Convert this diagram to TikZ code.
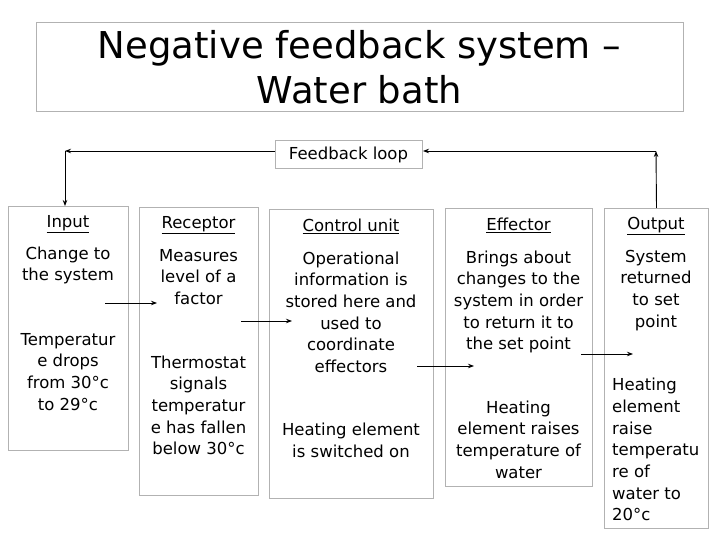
\documentclass[tikz,border=0pt]{standalone}
\usepackage{fontspec}
\setmainfont{DejaVu Sans}
\usetikzlibrary{arrows.meta}
\begin{document}
\begin{tikzpicture}[x=1pt,y=-1pt,
  frame/.style={draw=black!30, line width=1pt, inner sep=0pt, anchor=north west},
  txt/.style={inner sep=0pt, align=center, anchor=north, font=\fontsize{16.5}{21.7}\selectfont},
  arr/.style={-{Stealth[length=6pt,width=4.5pt]}, line width=0.9pt}]
\useasboundingbox (0,0) rectangle (720,540);
% frames
\node[frame, minimum width=647, minimum height=89] (title) at (36,22) {};
\node[frame, minimum width=147, minimum height=28] (fb) at (275,140) {};
\node[frame, minimum width=120, minimum height=244] (input) at (8,206) {};
\node[frame, minimum width=119, minimum height=288] (receptor) at (139,207) {};
\node[frame, minimum width=164, minimum height=289] (control) at (269,209) {};
\node[frame, minimum width=147, minimum height=278] (effector) at (445,208) {};
\node[frame, minimum width=104, minimum height=320] (output) at (604,208) {};
% title
\node[inner sep=0pt, align=center, anchor=north, font=\fontsize{37}{45}\selectfont] (titletext) at (359.5,26.5)
  {\strut Negative feedback system –\\Water bath};
\node[inner sep=0pt, anchor=base, font=\fontsize{16.5}{21.7}\selectfont] (fbtext) at (348.5,160) {Feedback loop};
% input
\node[txt] (inh) at (68,211.8) {\strut\underline{Input}};
\node[txt] (in1) at (68,243.8) {\strut Change to\\the system};
\node[txt] (in2) at (68,329.8) {\strut Temperatur\\e drops\\from 30°c\\to 29°c};
% receptor
\node[txt] (reh) at (198.5,212.8) {\strut\underline{Receptor}};
\node[txt] (re1) at (198.5,245.8) {\strut Measures\\level of a\\factor};
\node[txt] (re2) at (198.5,352.8) {\strut Thermostat\\signals\\temperatur\\e has fallen\\below 30°c};
% control unit
\node[txt] (coh) at (351,215.8) {\strut\underline{Control unit}};
\node[txt] (co1) at (351,248.8) {\strut Operational\\information is\\stored here and\\used to\\coordinate\\effectors};
\node[txt] (co2) at (351,420.3) {\strut Heating element\\is switched on};
% effector
\node[txt] (efh) at (518.5,214.8) {\strut\underline{Effector}};
\node[txt] (ef1) at (518.5,247.8) {\strut Brings about\\changes to the\\system in order\\to return it to\\the set point};
\node[txt] (ef2) at (518.5,397.8) {\strut Heating\\element raises\\temperature of\\water};
% output
\node[txt] (ouh) at (656,213.8) {\strut\underline{Output}};
\node[txt] (ou1) at (656,246.8) {\strut System\\returned\\to set\\point};
\node[txt, align=left, anchor=north west] (ou2) at (612,375.3) {\strut Heating\\element\\raise\\temperatu\\re of\\water to\\20°c};
% small arrows
\coordinate (a1s) at (105,303); \coordinate (a1e) at (157,303);
\coordinate (a2s) at (241,321); \coordinate (a2e) at (292,321);
\coordinate (a3s) at (417,366); \coordinate (a3e) at (474,366);
\coordinate (a4s) at (581,354); \coordinate (a4e) at (633,354);
\draw[arr] (a1s) -- (a1e);
\draw[arr] (a2s) -- (a2e);
\draw[arr] (a3s) -- (a3e);
\draw[arr] (a4s) -- (a4e);
% feedback loop
\coordinate (cL) at (65,151);
\coordinate (cR) at (656,151);
\draw[arr] (fb.west |- cL) -- (cL);
\draw[arr] (cL) -- (cL |- input.north);
\draw[arr] (output.north) -- (cR);
\draw[arr] (cR) -- (fb.east |- cR);
\end{tikzpicture}
\end{document}
